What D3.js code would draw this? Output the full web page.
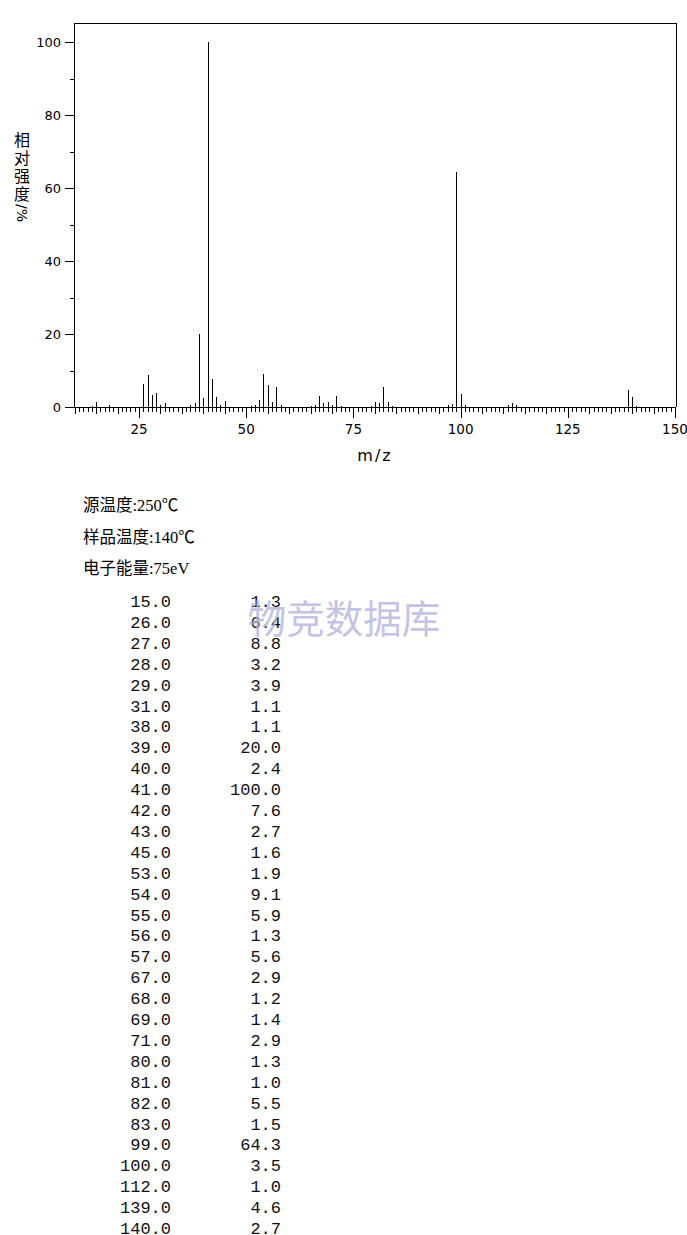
<!DOCTYPE html>
<html><head><meta charset="utf-8">
<script src="https://cdn.jsdelivr.net/npm/d3@7/dist/d3.min.js"></script>
<style>
html,body{margin:0;padding:0;background:#fff;}
svg{display:block;}
</style></head>
<body>
<svg id="c" width="687" height="1235"></svg>
<script>
// Listed peaks (m/z, relative intensity %)
const mzValues = [15,26,27,28,29,31,38,39,40,41,42,43,45,53,54,55,56,57,67,68,69,71,80,81,82,83,99,100,112,139,140];
const intensities = [1.3,6.4,8.8,3.2,3.9,1.1,1.1,20.0,2.4,100.0,7.6,2.7,1.6,1.9,9.1,5.9,1.3,5.6,2.9,1.2,1.4,2.9,1.3,1.0,5.5,1.5,64.3,3.5,1.0,4.6,2.7];
// Small unlisted peaks visible in the plot (estimated)
const minorMz = [14,18,30,37,44,51,52,58,65,66,70,72,79,84,97,98,101,111,113,141];
const minorInt = [0.4,0.5,0.5,0.6,0.6,0.4,0.5,0.5,0.4,0.6,0.5,0.4,0.4,0.4,0.5,0.7,0.5,0.6,0.5,0.4];
const xTickLabels = [25,50,75,100,125,150];
const yTickLabels = [0,20,40,60,80,100];
const infoLines = ["源温度:250℃","样品温度:140℃","电子能量:75eV"];

const svg = d3.select("#c");
const x = d3.scaleLinear().domain([10,150]).range([74.7,675]);
const y = d3.scaleLinear().domain([0,100]).range([407,42]);
const yTop = 23;

const g = svg.append("g").attr("shape-rendering","crispEdges");

// peaks
const allPeaks = mzValues.map((m,i)=>({m, v:intensities[i]}))
  .concat(minorMz.map((m,i)=>({m, v:minorInt[i]})));
g.selectAll("line.peak").data(allPeaks).enter().append("line")
  .attr("x1",d=>Math.round(x(d.m))+0.5).attr("x2",d=>Math.round(x(d.m))+0.5)
  .attr("y1",y(0)).attr("y2",d=>y(d.v))
  .attr("stroke","#000").attr("stroke-width",1.3);

// frame
g.append("line").attr("x1",x(10)).attr("x2",x(10)).attr("y1",yTop).attr("y2",y(0)+0.5).attr("stroke","#000");
g.append("line").attr("x1",x(10)).attr("x2",x(150)+1).attr("y1",yTop).attr("y2",yTop).attr("stroke","#000");
g.append("line").attr("x1",x(150)+1).attr("x2",x(150)+1).attr("y1",yTop).attr("y2",y(0)).attr("stroke","#000");
g.append("line").attr("x1",x(10)).attr("x2",x(150)+1).attr("y1",y(0)).attr("y2",y(0)).attr("stroke","#000");

// x ticks
const xt = d3.range(10,151,1);
g.selectAll("line.xt").data(xt).enter().append("line")
  .attr("x1",d=>Math.round(x(d))+0.5).attr("x2",d=>Math.round(x(d))+0.5)
  .attr("y1",y(0)).attr("y2",d=> y(0) + (d%25===0?11:(d%5===0?7:5)))
  .attr("stroke","#000");
svg.selectAll("text.xl").data(xTickLabels).enter().append("text")
  .attr("x",d=>x(d)).attr("y",434)
  .attr("text-anchor","middle").attr("font-family","DejaVu Sans")
  .attr("font-size",13.5).attr("fill","#000").text(d=>d);

// y ticks
const yt = d3.range(0,101,10);
g.selectAll("line.yt").data(yt).enter().append("line")
  .attr("x1",d=> x(10) - (d%20===0?10:5)).attr("x2",x(10))
  .attr("y1",d=>Math.round(y(d))+0.5).attr("y2",d=>Math.round(y(d))+0.5)
  .attr("stroke","#000");
svg.selectAll("text.yl").data(yTickLabels).enter().append("text")
  .attr("x",61).attr("y",d=>y(d)+4.5)
  .attr("text-anchor","end").attr("font-family","DejaVu Sans")
  .attr("font-size",13).attr("fill","#000").text(d=>d);

// axis titles
svg.append("text").attr("x",375).attr("y",461).attr("text-anchor","middle")
  .attr("font-family","DejaVu Sans").attr("font-size",16).attr("letter-spacing",2)
  .text("m/z");
const ychars = ["相","对","强","度"];
svg.selectAll("text.ych").data(ychars).enter().append("text")
  .attr("x",22).attr("y",(d,i)=>146+i*18).attr("text-anchor","middle")
  .attr("font-family","Noto Sans CJK SC").attr("font-size",16).text(d=>d);
svg.append("text").attr("transform","translate(17,213) rotate(90)")
  .attr("text-anchor","middle").attr("font-family","DejaVu Sans").attr("font-size",14)
  .text("/%");

// info lines
svg.selectAll("text.info").data(infoLines).enter().append("text")
  .attr("x",83).attr("y",(d,i)=>511+i*31.5)
  .attr("font-family","'Liberation Serif','Noto Sans CJK SC'").attr("font-size",16.5)
  .text(d=>d);

// table
const rows = mzValues.map((m,i)=>({m, v:intensities[i]}));
const tg = svg.append("g").attr("font-family","Liberation Mono").attr("font-size",17).attr("fill","#111");
tg.selectAll("text.tm").data(rows).enter().append("text")
  .attr("x",171).attr("y",(d,i)=>607+i*20.9).attr("text-anchor","end")
  .text(d=>d.m.toFixed(1));
tg.selectAll("text.tv").data(rows).enter().append("text")
  .attr("x",281).attr("y",(d,i)=>607+i*20.9).attr("text-anchor","end")
  .text(d=>d.v.toFixed(1));

// watermark
svg.append("text").attr("x",344).attr("y",633).attr("text-anchor","middle")
  .attr("font-family","Noto Sans CJK SC").attr("font-size",38.5)
  .attr("fill","rgb(175,175,222)").attr("fill-opacity",0.75).text("物竞数据库");
</script>
</body></html>
